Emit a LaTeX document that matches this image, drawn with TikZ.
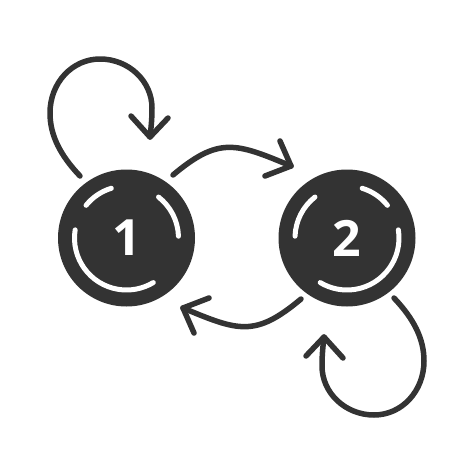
\documentclass[tikz,border=0pt]{standalone}
\usepackage{fontspec}
\newfontfamily\digitfont{Open Sans}
\definecolor{ink}{HTML}{333333}
\begin{document}
\begin{tikzpicture}[x=1pt,y=-1pt,
  conn/.style={draw=ink,line width=5.5pt,line cap=round,line join=round},
  state/.style={circle,fill=ink,minimum size=137pt,inner sep=0pt,text=white,
    font=\digitfont\bfseries\fontsize{50}{50}\selectfont},
  ring/.style={draw=white,line width=5pt,line cap=round}]
\useasboundingbox (0,0) rectangle (474,474);
\fill[white] (0,0) rectangle (474,474);
% states
\node[state] (s1) at (126.5,238) {1};
\node[state] (s2) at (347,238) {2};
% inner rings (angles negated because y points down)
\draw[ring] ([shift={(-107:52)}]s1.center) arc[start angle=-107,end angle=-141,radius=52];
\draw[ring] ([shift={(-2:52)}]s1.center) arc[start angle=-2,end angle=-52,radius=52];
\draw[ring] ([shift={(-171:52)}]s1.center) arc[start angle=-171,end angle=-301,radius=52];
\draw[ring] ([shift={(-73:52)}]s2.center) arc[start angle=-73,end angle=-39,radius=52];
\draw[ring] ([shift={(-178:52)}]s2.center) arc[start angle=-178,end angle=-128,radius=52];
\draw[ring] ([shift={(-9:52)}]s2.center) arc[start angle=-9,end angle=121,radius=52];
% connector end points
\coordinate (l1s) at (80,176);
\coordinate (l1t) at (150,137);
\coordinate (l2s) at (394,298);
\coordinate (l2t) at (324,337);
\coordinate (ts) at (173,175);
\coordinate (tt) at (291,166);
\coordinate (bs) at (301,299);
\coordinate (bt) at (183,308);
% self loop on 1
\draw[conn] (l1s) .. controls (60,155) and (50,135) .. (50,113)
  .. controls (50,83) and (72,59) .. (100,59)
  .. controls (128.6,59) and (152,81) .. (152,108)
  .. controls (152,120) and (151,128) .. (l1t);
\draw[conn] (131,116) -- (l1t) -- (168,118);
% self loop on 2
\draw[conn] (l2s) .. controls (414,319) and (424,339) .. (424,361)
  .. controls (424,391) and (402,415) .. (374,415)
  .. controls (345.4,415) and (322,393) .. (322,366)
  .. controls (322,354) and (323,346) .. (l2t);
\draw[conn] (343,358) -- (l2t) -- (306,356);
% 1 -> 2
\draw[conn] (ts) .. controls (219,136.4) and (235.8,142.9) .. (tt);
\draw[conn] (280,141) -- (tt) -- (265,176);
% 2 -> 1
\draw[conn] (bs) .. controls (255,337.6) and (238.2,331.1) .. (bt);
\draw[conn] (194,333) -- (bt) -- (209,298);
\end{tikzpicture}
\end{document}
